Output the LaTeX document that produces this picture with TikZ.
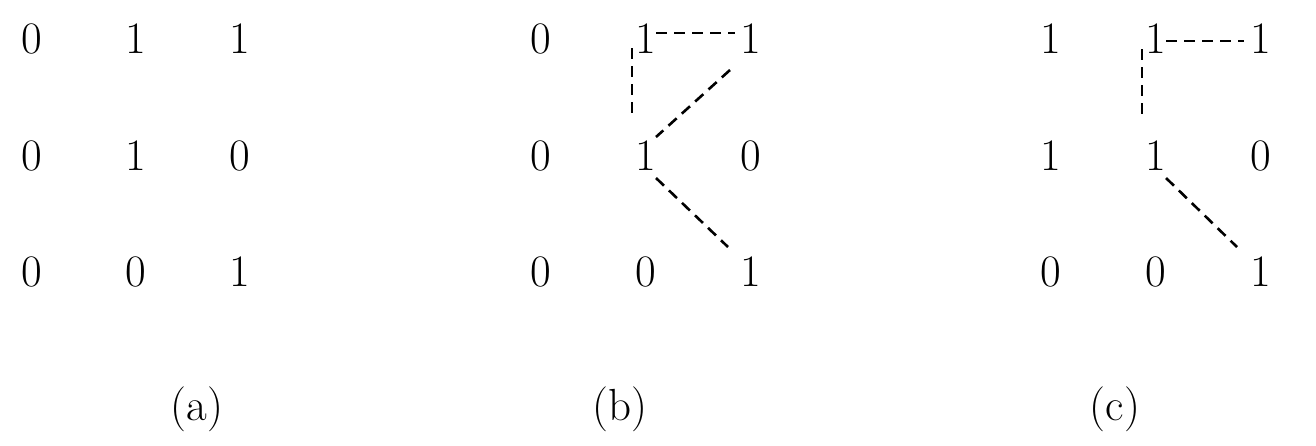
\documentclass[tikz,border=0pt]{standalone}
\begin{document}
\begin{tikzpicture}[x=0.5pt,y=-0.5pt,
  digit/.style={anchor=base,inner sep=0pt,font=\fontsize{22.5}{27}\selectfont},
  captionlbl/.style={anchor=base,inner sep=0pt,font=\fontsize{22.5}{27}\selectfont},
  link/.style={line width=1.3pt,dash pattern=on 5.5pt off 3.5pt}]
\useasboundingbox (0,0) rectangle (1316,445);
% panel a
\node[digit] (a11) at (32,53) {0};
\node[digit] (a12) at (136,53) {1};
\node[digit] (a13) at (240,53) {1};
\node[digit] (a21) at (32,170) {0};
\node[digit] (a22) at (136,170) {1};
\node[digit] (a23) at (240,170) {0};
\node[digit] (a31) at (32,286) {0};
\node[digit] (a32) at (136,286) {0};
\node[digit] (a33) at (240,286) {1};
\node[captionlbl] (la) at (197,420) {(a)};
% panel b
\node[digit] (b11) at (541,53) {0};
\node[digit] (b12) at (646,53) {1};
\node[digit] (b13) at (751,53) {1};
\node[digit] (b21) at (541,170) {0};
\node[digit] (b22) at (646,170) {1};
\node[digit] (b23) at (751,170) {0};
\node[digit] (b31) at (541,286) {0};
\node[digit] (b32) at (646,286) {0};
\node[digit] (b33) at (751,286) {1};
\node[captionlbl] (lb) at (620,420) {(b)};
% panel c
\node[digit] (c11) at (1051,53) {1};
\node[digit] (c12) at (1156,53) {1};
\node[digit] (c13) at (1261,53) {1};
\node[digit] (c21) at (1051,170) {1};
\node[digit] (c22) at (1156,170) {1};
\node[digit] (c23) at (1261,170) {0};
\node[digit] (c31) at (1051,286) {0};
\node[digit] (c32) at (1156,286) {0};
\node[digit] (c33) at (1261,286) {1};
\node[captionlbl] (lc) at (1115,420) {(c)};
% connector end points
\coordinate (bh1) at (656,33);
\coordinate (bh2) at (735,33);
\coordinate (bv1) at (632,48);
\coordinate (bv2) at (632,118);
\coordinate (bd1) at (730,70);
\coordinate (bd2) at (656,137);
\coordinate (be1) at (656,178);
\coordinate (be2) at (728,247);
\coordinate (ch1) at (1166,41);
\coordinate (ch2) at (1244,41);
\coordinate (cv1) at (1142,49);
\coordinate (cv2) at (1142,118);
\coordinate (ce1) at (1166,178);
\coordinate (ce2) at (1237,247);
% connectors
\draw[link] (bh1) -- (bh2);
\draw[link] (bv1) -- (bv2);
\draw[link] (bd1) -- (bd2);
\draw[link] (be1) -- (be2);
\draw[link] (ch1) -- (ch2);
\draw[link] (cv1) -- (cv2);
\draw[link] (ce1) -- (ce2);
\end{tikzpicture}
\end{document}
